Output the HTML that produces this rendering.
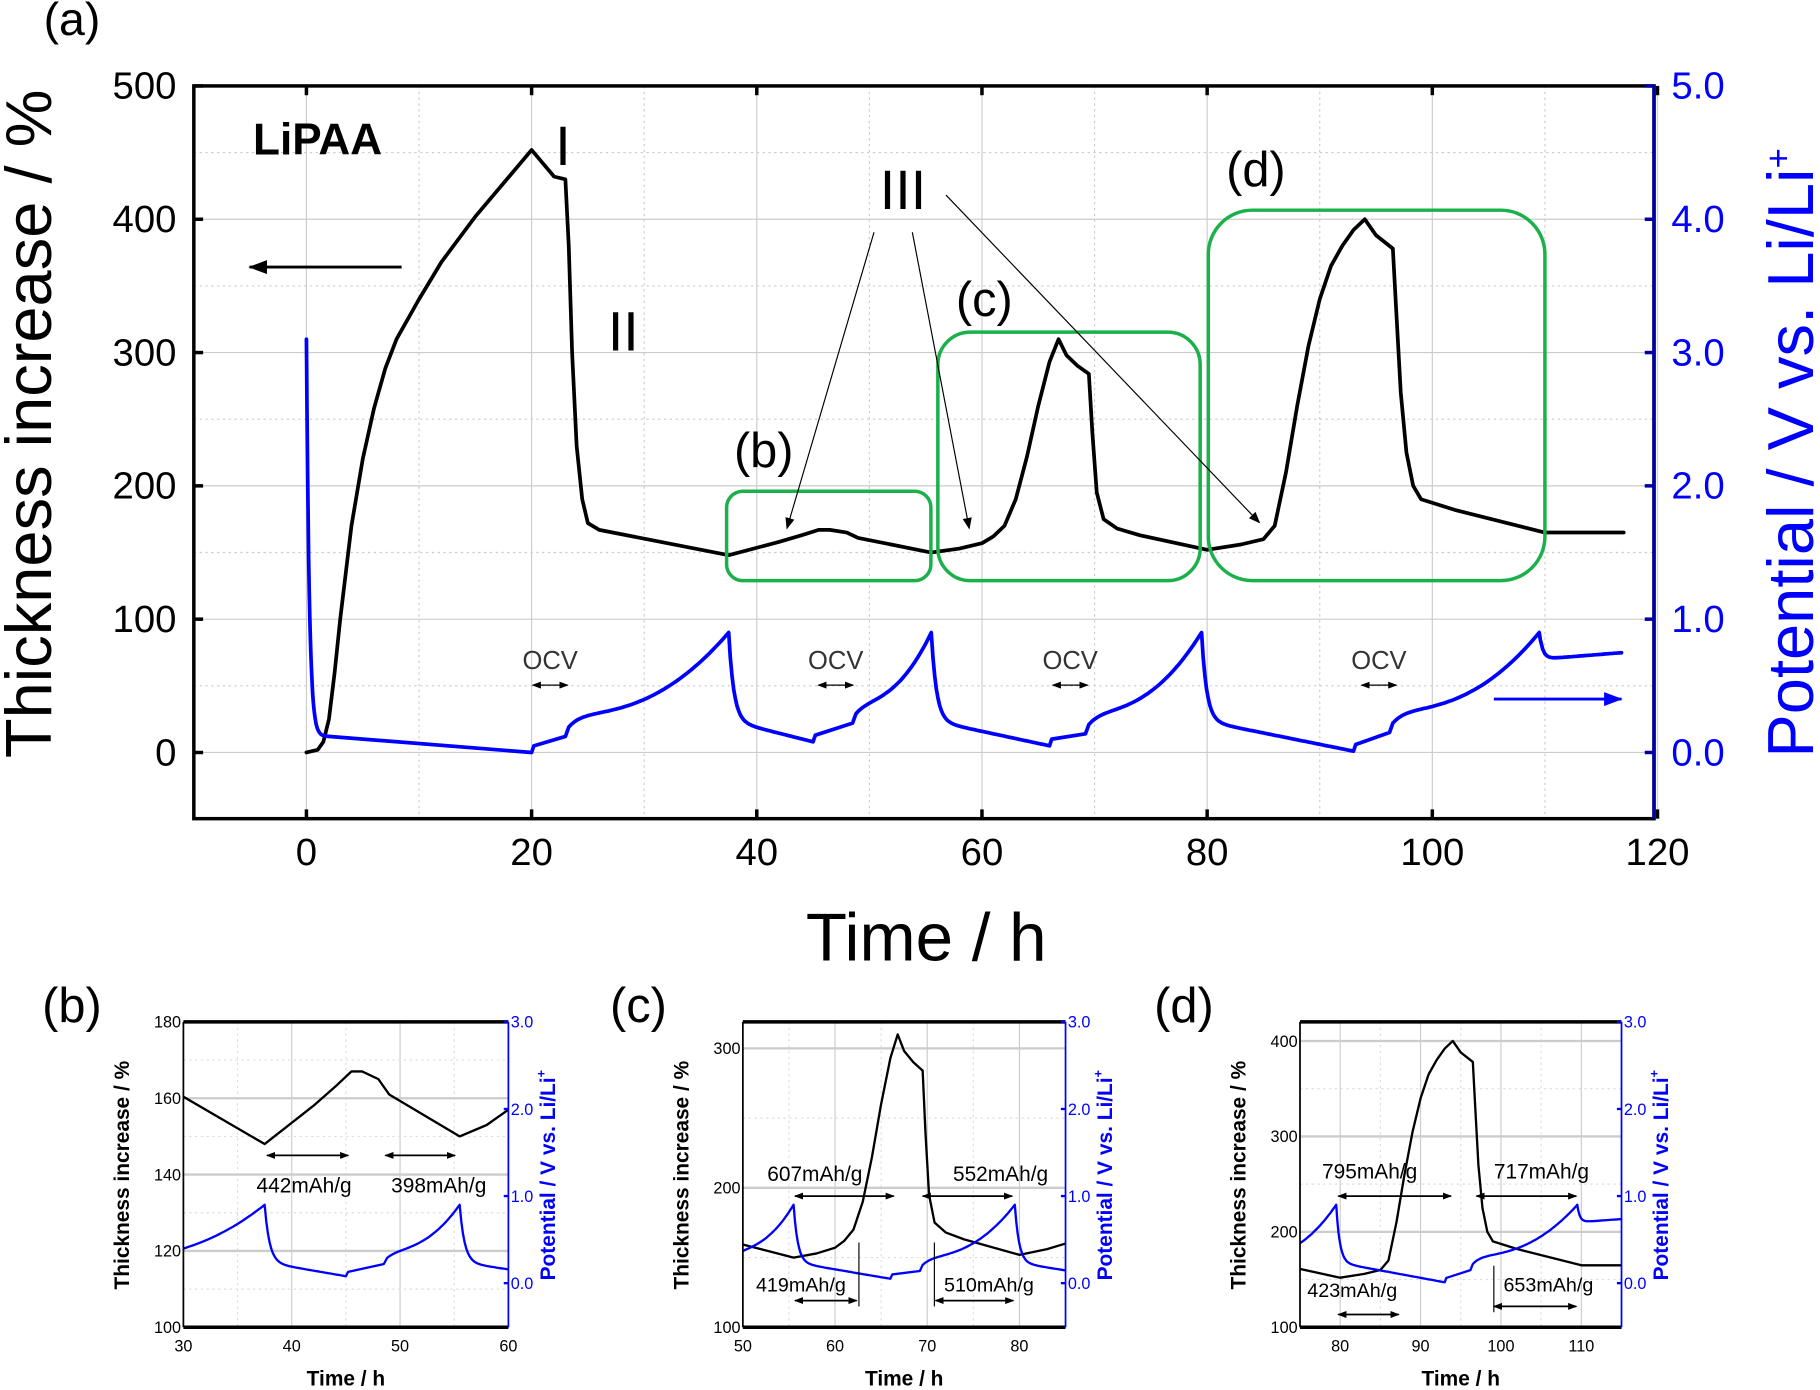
<!DOCTYPE html>
<html><head><meta charset="utf-8"><style>
html,body{margin:0;padding:0;background:#fff;width:1820px;height:1390px;overflow:hidden;}
svg{display:block;}
text{font-family:"Liberation Sans",sans-serif;}
</style></head><body>
<svg id="s" width="1820" height="1390" viewBox="0 0 1568 1197" preserveAspectRatio="none" xmlns="http://www.w3.org/2000/svg">
<defs>
<marker id="ah" markerWidth="10" markerHeight="8" refX="9" refY="4" orient="auto" markerUnits="userSpaceOnUse"><path d="M0,0 L10,4 L0,8 Z" fill="#000"/></marker>
<marker id="ahs" markerWidth="8" markerHeight="6" refX="7" refY="3" orient="auto-start-reverse" markerUnits="userSpaceOnUse"><path d="M0,0 L8,3 L0,6 Z" fill="#000"/></marker>
<marker id="ahb" markerWidth="16" markerHeight="12" refX="15" refY="6" orient="auto" markerUnits="userSpaceOnUse"><path d="M0,0 L16,6 L0,12 Z" fill="#00f"/></marker>
<marker id="ahk" markerWidth="16" markerHeight="12" refX="15" refY="6" orient="auto" markerUnits="userSpaceOnUse"><path d="M0,0 L16,6 L0,12 Z" fill="#000"/></marker>
<clipPath id="cm"><rect x="167" y="74" width="1258" height="631"/></clipPath>
<clipPath id="cb"><rect x="158" y="880" width="280" height="263"/></clipPath>
<clipPath id="cc"><rect x="640" y="880" width="278" height="263"/></clipPath>
<clipPath id="cd"><rect x="1120" y="880" width="277" height="263"/></clipPath>
</defs>
<g id="g"></g>
</svg>
<script>
const T=[[0,0],[1,2],[1.5,8],[2,25],[2.5,60],[3,100],[4,170],[5,220],[6,258],[7,288],[8,310],[10,340],[12,368],[15,402],[18,432],[20,452],[21,442],[22,432],[23,430],[23.3,380],[23.6,300],[24,230],[24.5,190],[25,172],[26,167],[37.5,148],[42,158],[44,163],[45.5,167],[46.5,167],[48,165],[49,161],[55.5,150],[58,153],[60,157],[61,162],[62,170],[63,190],[64,222],[65,260],[66,293],[66.8,310],[67.5,298],[68.5,290],[69.5,284],[69.8,240],[70.2,195],[70.8,175],[72,168],[74,163],[80,152],[83,156],[85,160],[86,170],[87,210],[88,260],[89,305],[90,340],[91,365],[92,380],[93,392],[94,400],[95,388],[96.5,378],[96.8,330],[97.2,270],[97.7,225],[98.3,200],[99,190],[102,182],[110,165],[117,165]];
let P=[[0,3.1]];
for(let t=0.05;t<=2;t+=0.05)P.push([t,0.12+2.98*Math.exp(-t/0.25)]);
P.push([20,0.0]);
function rise(ta,va,tb,vb){for(let t=ta;t<=tb+1e-6;t+=0.25){let u=(t-ta)/(tb-ta);P.push([t,va+0.1*(1-Math.exp(-(t-ta)/1))+(vb-va-0.1)*Math.pow(u,2.3)]);}}
function decay(tp,vp,te,ve){for(let t=tp;t<=te+1e-6;t+=0.15){let l=0.24+(ve-0.24)*(t-tp)/(te-tp);P.push([t,l+(vp-0.24)*Math.exp(-(t-tp)/0.45)]);}}
function ocv(t0,v0,t1,v1,t2){P.push([t0+0.2,v0+0.05],[t1,v1],[t1+0.3,v1+0.07]);}
ocv(20,0,23,0.12);rise(23.3,0.19,37.5,0.9);decay(37.5,0.9,45,0.08);
ocv(45,0.08,48.5,0.22);rise(48.8,0.29,55.5,0.9);decay(55.5,0.9,66,0.05);
ocv(66,0.05,69.2,0.14);rise(69.5,0.21,79.5,0.9);decay(79.5,0.9,93,0.01);
ocv(93,0.01,96.2,0.15);rise(96.5,0.22,109.5,0.9);
for(let t=109.6;t<=117;t+=0.2)P.push([t,0.7+0.05*(t-109.6)/7.4+0.2*Math.exp(-(t-109.5)/0.3)]);
let h='';
function L(x1,y1,x2,y2,s,w,e){h+=`<line x1="${x1}" y1="${y1}" x2="${x2}" y2="${y2}" stroke="${s}" stroke-width="${w}" ${e||''}/>`;}
function Tx(x,y,t,sz,a,c,e){h+=`<text x="${x}" y="${y}" font-size="${sz}" text-anchor="${a||'middle'}" fill="${c||'#000'}" ${e||''}>${t}</text>`;}
function path(d,fx,fy,c,w,clip){h+=`<path d="M${d.map(p=>fx(p[0]).toFixed(1)+','+fy(p[1]).toFixed(1)).join(' L')}" fill="none" stroke="${c}" stroke-width="${w}" stroke-linejoin="round" stroke-linecap="round" clip-path="url(#${clip})"/>`;}
let mx=v=>264+v*9.7, my=v=>648-v*1.148, mp=v=>648-v*114.8;
for(let v=-10;v<=120;v+=10){if(v>-10)L(mx(v),74,mx(v),705,'#ccc',1,v%20?'stroke-dasharray="2,3"':'');}
for(let v=-50;v<=500;v+=50){L(167,my(v),1425,my(v),'#ccc',1,v%100?'stroke-dasharray="2,3"':'');}
h+=`<rect x="167" y="74" width="1258" height="631" fill="none" stroke="#000" stroke-width="3"/>`;
L(1425,74,1425,705,'#00a',3);
for(let v=0;v<=120;v+=20){L(mx(v),705,mx(v),697,'#000',3);L(mx(v),74,mx(v),82,'#000',3);Tx(mx(v),745,v,33);}
for(let v=0;v<=500;v+=100){L(167,my(v),175,my(v),'#000',3);Tx(152,my(v)+11,v,33,'end');}
for(let v=0;v<=5;v++){L(1425,mp(v),1417,mp(v),'#00a',3);Tx(1440,mp(v)+11,v.toFixed(1),33,'start','#00f');}
path(T,mx,my,'#000',3.2,'cm');path(P,mx,mp,'#00f',3.2,'cm');
h+=`<rect x="626" y="423" width="176" height="77" rx="14" fill="none" stroke="#1bb04a" stroke-width="3"/>`;
h+=`<rect x="808" y="286" width="226" height="214" rx="28" fill="none" stroke="#1bb04a" stroke-width="3"/>`;
h+=`<rect x="1041" y="181" width="290" height="319" rx="38" fill="none" stroke="#1bb04a" stroke-width="3"/>`;
Tx(62,30,'(a)',40);Tx(218,133,'LiPAA',38,'start','#000','font-weight="bold"');
Tx(485,142,'I',48,'middle','#000','font-family="Liberation Serif,serif"');
Tx(537,302,'II',48,'middle','#000','font-family="Liberation Serif,serif"');
Tx(778,180,'III',48,'middle','#000','font-family="Liberation Serif,serif"');
Tx(658,402,'(b)',42);Tx(848,272,'(c)',42);Tx(1082,160,'(d)',42);
L(753,200,678,455,'#000',1,'marker-end="url(#ah)"');L(786,200,835,455,'#000',1,'marker-end="url(#ah)"');L(815,168,1085,450,'#000',1,'marker-end="url(#ah)"');
L(346,230,215,230,'#000',2.5,'marker-end="url(#ahk)"');L(1287,602,1397,602,'#00f',2.5,'marker-end="url(#ahb)"');
[[474],[720],[922],[1188]].forEach(o=>{Tx(o[0],576,'OCV',22,'middle','#333');L(o[0]-15,590,o[0]+15,590,'#000',1,'marker-start="url(#ahs)" marker-end="url(#ahs)"');});
h+=`<text transform="translate(44,365) rotate(-90)" font-size="56" text-anchor="middle">Thickness increase / %</text>`;
h+=`<text transform="translate(1562,390) rotate(-90)" font-size="56" text-anchor="middle" fill="#00f">Potential / V vs. Li/Li<tspan dy="-20" font-size="30">+</tspan></text>`;
Tx(798,827,'Time / h',58);
function sub(x0,x1,t0,t1,y0v,y1v,clip,ticksX,ticksY,lab,labx){
 let fx=v=>x0+(v-t0)*(x1-x0)/(t1-t0), fy=v=>1143-(v-y0v)*263/(y1v-y0v), fp=v=>1105-v*75;
 ticksX.forEach(v=>L(fx(v),880,fx(v),1143,'#ccc',1));
 for(let k=0;k<ticksX.length-1;k++){let m=(ticksX[k]+ticksX[k+1])/2;L(fx(m),880,fx(m),1143,'#ddd',1,'stroke-dasharray="2,3"');}
 ticksY.forEach(v=>L(x0,fy(v),x1,fy(v),'#ccc',2));
 for(let k=0;k<ticksY.length-1;k++){let m=(ticksY[k]+ticksY[k+1])/2;L(x0,fy(m),x1,fy(m),'#ddd',1,'stroke-dasharray="2,3"');}
 path(T,fx,fy,'#000',2,clip);path(P,fx,fp,'#00f',2,clip);
 L(x0,880,x1,880,'#000',3);L(x0,1143,x1,1143,'#000',3);L(x0,880,x0,1143,'#000',1.5);L(x1,880,x1,1143,'#00f',1.5);
 ticksX.forEach(v=>{Tx(fx(v),1164,v,14);});
 ticksY.forEach(v=>Tx(x0-2,fy(v)+5,v,14,'end'));
 [0,1,2,3].forEach(v=>{Tx(x1+2,fp(v)+5,v.toFixed(1),14,'start','#00f');L(x1,fp(v),x1-4,fp(v),'#00f',2);});
 Tx((x0+x1)/2,1193,'Time / h',18,'middle','#000','font-weight="bold"');
 h+=`<text transform="translate(${x0-47},${1012}) rotate(-90)" font-size="18" font-weight="bold" text-anchor="middle">Thickness increase / %</text>`;
 h+=`<text transform="translate(${x1+40},${1012}) rotate(-90)" font-size="18" font-weight="bold" text-anchor="middle" fill="#00f">Potential / V vs. Li/Li<tspan dy="-8" font-size="11">+</tspan></text>`;
 Tx(labx,880,lab,42);
 return fx;
}
function dbl(a,b,y){L(a,y,b,y,'#000',1.5,'marker-start="url(#ahs)" marker-end="url(#ahs)"');}
sub(158,438,30,60,100,180,'cb',[30,40,50,60],[100,120,140,160,180],'(b)',62);
dbl(230,300,995);dbl(332,392,995);Tx(262,1027,'442mAh/g',18);Tx(378,1027,'398mAh/g',18);
sub(640,918,50,85,100,319,'cc',[50,60,70,80],[100,200,300],'(c)',550);
dbl(685,770,1030);dbl(795,872,1030);Tx(702,1017,'607mAh/g',18);Tx(862,1017,'552mAh/g',18);
dbl(685,738,1120);dbl(806,873,1120);Tx(690,1112,'419mAh/g',17);Tx(852,1112,'510mAh/g',17);
L(740,1070,740,1125,'#000',1);L(805,1070,805,1125,'#000',1);
sub(1120,1397,75,115,100,420,'cd',[80,90,100,110],[100,200,300,400],'(d)',1020);
dbl(1153,1250,1030);dbl(1272,1358,1030);Tx(1180,1015,'795mAh/g',18);Tx(1328,1015,'717mAh/g',18);
dbl(1153,1205,1132);dbl(1287,1358,1125);Tx(1165,1117,'423mAh/g',17);Tx(1334,1112,'653mAh/g',17);
L(1287,1090,1287,1130,'#000',1);
document.getElementById('g').innerHTML=h;
</script>
</body></html>
